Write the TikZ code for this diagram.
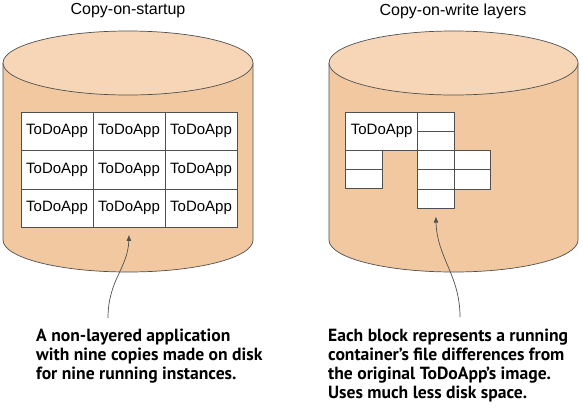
\documentclass[tikz,border=0pt]{standalone}
\usepackage{fontspec}
\setmainfont{Liberation Sans}
\newfontfamily\notefont{PT Sans}
\usetikzlibrary{arrows.meta}
\definecolor{diskbody}{RGB}{242,200,160}
\definecolor{disktop}{RGB}{246,214,183}
\definecolor{edge}{RGB}{80,80,80}
\tikzset{
  cell/.style={draw=edge, fill=white, line width=0.6pt, inner sep=0pt,
    minimum width=72pt, minimum height=38.5pt, font=\fontsize{15}{15}\selectfont},
  slot/.style={cell, minimum width=36.3pt, minimum height=19.25pt},
  title/.style={font=\fontsize{16}{16}\selectfont},
  note/.style={font=\notefont\bfseries\fontsize{17.6}{19}\selectfont,
    align=left, inner sep=0pt, anchor=north west},
  pointer/.style={draw=edge, line width=0.7pt, -{Latex[length=6pt,width=5pt]}}
}
\begin{document}
\begin{tikzpicture}[x=1pt,y=1pt]
\useasboundingbox (0,0) rectangle (583,-410);

% disks
\fill[diskbody] (3,-63) -- (3,-240) arc[start angle=180,end angle=360,x radius=125pt,y radius=32pt] -- (253,-63) -- cycle;
\draw[edge, line width=0.7pt] (3,-63) -- (3,-240) arc[start angle=180,end angle=360,x radius=125pt,y radius=32pt] -- (253,-63);
\draw[edge, fill=disktop, line width=0.7pt] (128,-63) ellipse[x radius=125pt,y radius=32pt];

\fill[diskbody] (329,-63) -- (329,-240) arc[start angle=180,end angle=360,x radius=124.5pt,y radius=32pt] -- (578,-63) -- cycle;
\draw[edge, line width=0.7pt] (329,-63) -- (329,-240) arc[start angle=180,end angle=360,x radius=124.5pt,y radius=32pt] -- (578,-63);
\draw[edge, fill=disktop, line width=0.7pt] (453.5,-63) ellipse[x radius=124.5pt,y radius=32pt];

\node[title] (startup) at (128,-11) {Copy-on-startup};
\node[title] (cow) at (453,-11) {Copy-on-write layers};

% nine copies
\node[cell] (g11) at (57,-131.25) {ToDoApp};
\node[cell] (g12) at (129,-131.25) {ToDoApp};
\node[cell] (g13) at (201,-131.25) {ToDoApp};
\node[cell] (g21) at (57,-169.75) {ToDoApp};
\node[cell] (g22) at (129,-169.75) {ToDoApp};
\node[cell] (g23) at (201,-169.75) {ToDoApp};
\node[cell] (g31) at (57,-208.25) {ToDoApp};
\node[cell] (g32) at (129,-208.25) {ToDoApp};
\node[cell] (g33) at (201,-208.25) {ToDoApp};

% layers
\node[cell] (base) at (381.7,-131.25) {ToDoApp};
\node[slot] (a1) at (363.85,-159.875) {};
\node[slot] (a2) at (363.85,-179.125) {};
\node[slot] (b1) at (435.85,-121.625) {};
\node[slot] (b2) at (435.85,-140.875) {};
\node[slot] (b3) at (435.85,-160.125) {};
\node[slot] (b4) at (435.85,-179.375) {};
\node[slot] (b5) at (435.85,-198.625) {};
\node[slot] (c1) at (472.15,-160.125) {};
\node[slot] (c2) at (472.15,-179.375) {};

% notes
\node[note] (noteL) at (36,-329) {A non-layered application\\with nine copies made on disk\\for nine running instances.};
\node[note] (noteR) at (328,-329) {Each block represents a running\\container’s file differences from\\the original ToDoApp’s image.\\Uses much less disk space.};

\coordinate (tailL) at (108,-318);
\coordinate (tailR) at (460,-317);
\draw[pointer] (tailL) .. controls (108,-280) and (128,-268) .. ([yshift=-7pt]g32.south);
\draw[pointer] (tailR) .. controls (460,-275) and (437,-258) .. ([yshift=-8pt]b5.south);
\end{tikzpicture}
\end{document}
